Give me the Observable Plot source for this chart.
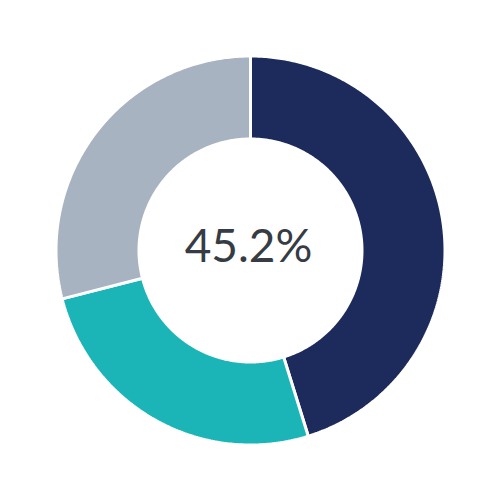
<!DOCTYPE html>
<html>
<head>
<meta charset="utf-8">
<script src="https://cdn.jsdelivr.net/npm/d3@7"></script>
<script src="https://cdn.jsdelivr.net/npm/@observablehq/plot@0.6"></script>
<style>
  html, body { margin: 0; padding: 0; background: #fff; }
</style>
</head>
<body>
<div id="chart"></div>
<script>
const categories = ["A", "B", "C"];
const values = [45.2, 25.8, 29.0];
const colors = ["#1c2b5b", "#1bb5b7", "#a8b3c1"];
const centerLabel = "45.2%";

const outerR = 194.5, innerR = 111.5;
const pie = d3.pie().sort(null).value(d => d.value)(categories.map((c, i) => ({cat: c, value: values[i]})));

const pts = [];
pie.forEach(s => {
  const n = Math.max(8, Math.ceil((s.endAngle - s.startAngle) / 0.01));
  const ring = [];
  for (let k = 0; k <= n; k++) {
    const a = s.startAngle + (s.endAngle - s.startAngle) * k / n;
    ring.push([outerR * Math.sin(a), outerR * Math.cos(a)]);
  }
  for (let k = n; k >= 0; k--) {
    const a = s.startAngle + (s.endAngle - s.startAngle) * k / n;
    ring.push([innerR * Math.sin(a), innerR * Math.cos(a)]);
  }
  ring.push(ring[0]);
  ring.forEach(([x, y]) => pts.push({cat: s.data.cat, x, y}));
});

const chart = Plot.plot({
  width: 500,
  height: 500,
  margin: 0,
  x: {domain: [-250, 250], axis: null},
  y: {domain: [-250, 250], axis: null},
  color: {domain: categories, range: colors},
  marks: [
    Plot.line(pts, {x: "x", y: "y", z: "cat", fill: "cat", stroke: "white", strokeWidth: 3, strokeLinejoin: "miter"}),
    Plot.text([centerLabel], {x: () => 0, y: () => 0, text: d => d, fontSize: 46, fontWeight: 400, fill: "#363b44", dy: -3, dx: -2, fontFamily: "Lato"})
  ],
  style: {background: "white"}
});
document.getElementById("chart").appendChild(chart);
</script>
</body>
</html>
